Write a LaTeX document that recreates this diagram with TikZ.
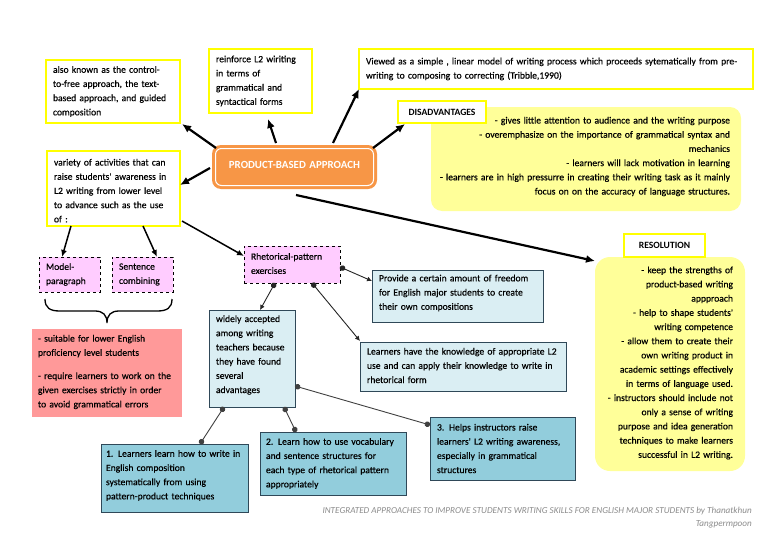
\documentclass[tikz,border=0pt]{standalone}
\usepackage{fontspec}
\setmainfont{Carlito}
\newfontfamily\hv[FakeBold=0.35]{Carlito}
\usetikzlibrary{arrows.meta,calc}
\definecolor{yel}{HTML}{FFFF00}
\definecolor{ltyel}{HTML}{FFFF99}
\definecolor{org}{HTML}{F79646}
\definecolor{pnk}{HTML}{FFCCFF}
\definecolor{rd}{HTML}{FF9999}
\definecolor{ltblue}{HTML}{DAEEF3}
\definecolor{midblue}{HTML}{92CDDC}
\definecolor{edge}{HTML}{2F4858}
\newcommand\bx[8][7]{%
  \pgfmathsetmacro\bw{#5-#3}\pgfmathsetmacro\bh{#6-#4}%
  \pgfmathsetmacro\bcx{(#5+#3)/2}\pgfmathsetmacro\bcy{(#6+#4)/2}%
  \pgfmathsetmacro\btw{\bw-2*#1}%
  \node[#7,minimum width=\bw pt,minimum height=\bh pt,text width=\btw pt] (#2) at (\bcx,\bcy) {#8};}
\tikzset{
  x=1pt,y=-1pt,
  base/.style={inner sep=0pt,outer sep=0pt,font=\hv\fontsize{9.6}{14.2}\selectfont,align=left,text=black},
  dn/.style={execute at begin node={\rule{0pt}{#1pt}}},
  up/.style={execute at end node={\par\vspace*{#1pt}}},
  ybox/.style={base,draw=yel,fill=white,line width=2.4pt},
  note/.style={base,fill=ltyel,rounded corners=11pt,align=right},
  pinkbox/.style={base,draw=black,fill=pnk,dashed,line width=.9pt},
  redbox/.style={base,fill=rd},
  lbox/.style={base,draw=edge,fill=ltblue,line width=1pt},
  dbox/.style={base,draw=edge,fill=midblue,line width=1pt},
  title/.style={font=\fontsize{9.6}{14.2}\selectfont\bfseries,align=center},
  bigarrow/.style={-{Latex[length=9pt,width=8pt]},line width=2.2pt,black},
  medarrow/.style={-{Latex[length=7pt,width=6pt]},line width=1.5pt,black},
  dotarrow/.style={{Circle[length=5.5pt]}-{Latex[length=5pt,width=5pt]},line width=.9pt,black!85},
  dotdot/.style={{Circle[length=5.5pt]}-{Circle[length=5.5pt]},line width=.9pt,black!75},
}
\begin{document}
\begin{tikzpicture}
\useasboundingbox (0,0) rectangle (768,543);
\fill[white] (0,0) rectangle (768,543);
% boxes
\bx{alsok}{46}{60}{180}{123}{ybox}{also known as the control-\\to-free approach, the text-\\based approach, and guided\\composition}
\bx{reinf}{209}{49}{312}{113}{ybox}{reinforce L2 wiriting\\in terms of\\grammatical and\\syntactical forms}
\bx{viewed}{359}{49}{753}{89}{ybox}{Viewed as a simple , linear model of writing process which proceeds sytematically from pre-\\writing to composing to correcting (Tribble,1990)}
\bx[11]{disnote}{431}{107}{741}{211}{note,up=5}{- gives little attention to audience and the writing purpose\\- overemphasize on the importance of grammatical syntax and\\mechanics\\- learners will lack motivation in learning\\\makebox[\linewidth][r]{- learners are in high pressurre in creating their writing task as it mainly}\\focus on on the accuracy of language structures.}
\bx[4]{dis}{398}{101}{486}{123}{ybox,title}{DISADVANTAGES}
\bx[12]{resnote}{595}{257}{745}{471}{note,rounded corners=15pt,up=2}{- keep the strengths of\\product-based writing\\appproach\\- help to shape students'\\writing competence\\- allow them to create their\\own writing product in\\academic settings effectively\\in terms of language used.\\- instructors should include not\\only a sense of writing\\purpose and idea generation\\techniques to make learners\\successful in L2 writing.}
\bx[4]{res}{624}{234}{705}{257}{ybox,title}{RESOLUTION}
\bx[0]{main}{212}{145}{377}{189}{base,fill=org,rounded corners=9pt,align=center,text=white,font=\fontsize{10.9}{12}\selectfont\bfseries}{\raisebox{5pt}{PRODUCT-BASED APPROACH}}
\draw[white,line width=1pt,rounded corners=6pt] ($(main.south west)+(3.5,-3.5)$) rectangle ($(main.north east)+(-3.5,3.5)$);
\bx{vari}{47}{151}{180}{226}{ybox,dn=11}{variety of activities that can\\raise students' awareness in\\L2 writing from lower level\\to advance such as the use\\of :}
\bx{model}{39}{257}{100}{292}{pinkbox}{Model-\\paragraph}
\bx{sent}{112}{257}{173}{292}{pinkbox}{Sentence\\combining}
\bx{rhet}{244}{246}{340}{283}{pinkbox,up=2}{Rhetorical-pattern\\exercises}
\bx[6]{suit}{32}{329}{182}{417}{redbox,up=2}{- suitable for lower English\\proficiency level students\\[9pt]- require learners to work on the\\given exercises strictly in order\\to avoid grammatical errors}
\bx{wide}{209}{310}{295}{407}{lbox,up=7}{widely accepted\\among writing\\teachers because\\they have found\\several\\advantages}
\bx{prov}{372}{270}{543}{322}{lbox,up=6}{Provide a certain amount of freedom\\for English major students to create\\their own compositions}
\bx{lear}{360}{342}{566}{391}{lbox,up=2}{Learners have the knowledge of appropriate L2\\use and can apply their knowledge to write in\\rhetorical form}
\bx[5]{one}{101}{444}{248}{512}{dbox,up=5}{1. Learners learn how to write in\\English composition\\systematically from using\\pattern-product techniques}
\bx[6]{two}{260}{432}{406}{495}{dbox}{2. Learn how to use vocabulary\\and sentence structures for\\each type of rhetorical pattern\\appropriately}
\bx[7]{three}{430}{417}{575}{480}{dbox}{3. Helps instructors raise\\learners' L2 writing awareness,\\especially in grammatical\\structures}
\node[anchor=north east,inner sep=0pt,align=right,text=black!45,font=\fontsize{9.15}{12.6}\selectfont\itshape] (foot) at (752,507) {INTEGRATED APPROACHES TO IMPROVE STUDENTS WRITING SKILLS FOR ENGLISH MAJOR STUDENTS by Thanatkhun\\Tangpermpoon};
% brace
\coordinate (bs) at ($(model.south west)+(6,7)$);
\begin{scope}[shift={(bs)}]
\draw[black,line width=1.3pt] (0,0) .. controls (0,9) and (5,12) .. (15,12) -- (50,12) .. controls (58,12) and (62,16) .. (62,24) .. controls (62,16) and (66,12) .. (74,12) -- (112,12) .. controls (122,12) and (127,9) .. (127,0);
\end{scope}
% arrows from main
\draw[bigarrow] ($(main.north west)+(4,3)$) -- ($(alsok.south east)+(2,1)$);
\draw[bigarrow] ($(main.north west)+(64,-2)$) -- ($(reinf.south west)+(59,6)$);
\draw[bigarrow] ($(main.north east)+(-44,-2)$) -- (viewed.south west);
\draw[bigarrow] ($(main.north east)+(-4,3)$) -- ($(dis.south west)+(7,1)$);
\draw[bigarrow] ($(main.south west)+(-2,-21)$) -- ($(vari.north east)+(0,34)$);
\draw[bigarrow] ($(main.south west)+(84,6)$) -- ($(resnote.north west)+(0,4)$);
% from variety
\draw[medarrow] ($(vari.south west)+(24,0)$) -- ($(model.north west)+(23,0)$);
\draw[medarrow] ($(vari.south west)+(96,0)$) -- ($(sent.north west)+(45,0)$);
\draw[medarrow] ($(vari.south east)+(2,-5)$) -- ($(rhet.north west)+(0,10)$);
% from rhet
\draw[dotarrow] ($(rhet.south east)+(0,-16)$) -- ($(prov.north west)+(0,11)$);
\draw[dotarrow] ($(rhet.south west)+(68,0)$) -- ($(lear.north west)+(0,-1)$);
\draw[dotarrow] ($(rhet.south west)+(31,0)$) -- ($(wide.north west)+(51,0)$);
% from widely
\draw[dotdot] ($(wide.south west)+(15,0)$) -- ($(one.north west)+(99,0)$);
\draw[dotdot] ($(wide.south west)+(75,0)$) -- ($(two.north west)+(36,0)$);
\draw[dotdot] ($(wide.south east)+(0,-21)$) -- ($(three.north west)+(0,8)$);
\end{tikzpicture}
\end{document}
